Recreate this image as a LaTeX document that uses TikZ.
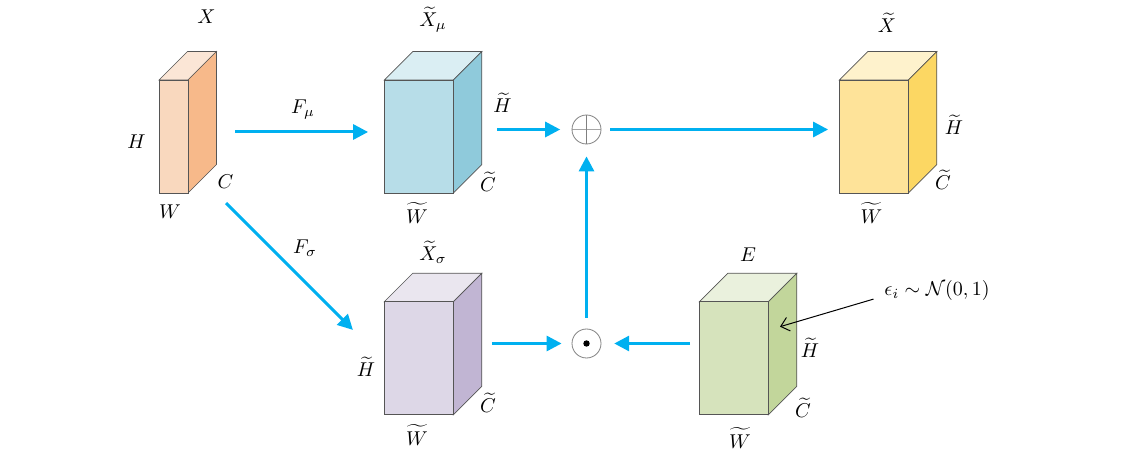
\documentclass[tikz,border=0pt]{standalone}
\usetikzlibrary{arrows.meta,calc}
\definecolor{arrblue}{HTML}{00B0F0}
\definecolor{edgec}{HTML}{555555}
\definecolor{xf}{HTML}{F9D8BE}\definecolor{xs}{HTML}{F7B98A}\definecolor{xt}{HTML}{FBE6D6}
\definecolor{bf}{HTML}{B7DDE8}\definecolor{bs}{HTML}{8FCADB}\definecolor{bt}{HTML}{DAEEF3}
\definecolor{pf}{HTML}{DDD7E7}\definecolor{ps}{HTML}{C1B5D3}\definecolor{pt}{HTML}{EAE6EF}
\definecolor{gf}{HTML}{D6E3BC}\definecolor{gs}{HTML}{C2D69B}\definecolor{gt}{HTML}{EAF1DD}
\definecolor{yf}{HTML}{FEE399}\definecolor{ys}{HTML}{FCD763}\definecolor{yt}{HTML}{FEF2CC}
\newcommand{\boxcube}[8]{%
  \filldraw[fill=#8,draw=edgec,line width=0.35pt] (#2,#3) -- ++(28.5,-28.5) -- ++(#4,0) -- ++(-28.5,28.5) -- cycle;
  \filldraw[fill=#7,draw=edgec,line width=0.35pt] (#2+#4,#3) -- ++(28.5,-28.5) -- ++(0,#5) -- ++(-28.5,28.5) -- cycle;
  \node[draw=edgec,fill=#6,line width=0.35pt,inner sep=0pt,outer sep=0pt,
        minimum width={#4*0.5pt},minimum height={#5*0.5pt}] (#1) at (#2+#4/2,#3+#5/2) {};
}
\tikzset{
  arr/.style={draw=arrblue,line width=1.5pt,-{Triangle[length=7.5pt,width=7.5pt]}},
  lbl/.style={inner sep=0pt,font=\normalsize},
  opnode/.style={circle,draw=gray,line width=0.4pt,minimum size=14.5pt,inner sep=0pt}
}
\begin{document}
\begin{tikzpicture}[x=0.5pt,y=-0.5pt]
\useasboundingbox (0,0) rectangle (1134,464);
% cubes
\boxcube{X}{159}{80}{29}{113}{xf}{xs}{xt}
\boxcube{Xmu}{384.3}{80}{69}{113}{bf}{bs}{bt}
\boxcube{Xsig}{384.3}{301.7}{69}{113}{pf}{ps}{pt}
\boxcube{E}{699.3}{301.7}{69}{113}{gf}{gs}{gt}
\boxcube{Xt}{839.3}{80}{69}{113}{yf}{ys}{yt}
% operators
\node[opnode,path picture={
  \draw[gray!70,line width=0.4pt] (path picture bounding box.west) -- (path picture bounding box.east);
  \draw[gray,line width=0.4pt] (path picture bounding box.north) -- (path picture bounding box.south);}] (oplus) at (586.5,129.5) {};
\node[opnode] (odot) at (586.5,343.5) {};
\fill (odot.center) circle (1.6pt);
% labels
\node[lbl] (lX) at (206.5,17) {$X$};
\node[lbl] (lH) at (136.5,141.5) {$H$};
\node[lbl] (lC) at (225.5,181.5) {$C$};
\node[lbl] (lW) at (170,211.5) {$W$};
\node[lbl] (lXmu) at (433,20) {$\widetilde{X}_\mu$};
\node[lbl] (lHmu) at (502.5,103) {$\widetilde{H}$};
\node[lbl] (lCmu) at (488,182) {$\widetilde{C}$};
\node[lbl] (lWmu) at (417,213) {$\widetilde{W}$};
\node[lbl] (lXsig) at (433,252) {$\widetilde{X}_\sigma$};
\node[lbl] (lHsig) at (366,366.5) {$\widetilde{H}$};
\node[lbl] (lCsig) at (488,403) {$\widetilde{C}$};
\node[lbl] (lWsig) at (417,435) {$\widetilde{W}$};
\node[lbl] (lE) at (748,255) {$E$};
\node[lbl] (lHE) at (810,348) {$\widetilde{H}$};
\node[lbl] (lCE) at (803,408) {$\widetilde{C}$};
\node[lbl] (lWE) at (740,438) {$\widetilde{W}$};
\node[lbl] (lXt) at (887,23) {$\widetilde{X}$};
\node[lbl] (lHt) at (954,125) {$\widetilde{H}$};
\node[lbl] (lCt) at (943,180) {$\widetilde{C}$};
\node[lbl] (lWt) at (871.5,213) {$\widetilde{W}$};
\node[lbl] (lFmu) at (303,110) {$F_\mu$};
\node[lbl] (lFsig) at (305,248) {$F_\sigma$};
\node[lbl,anchor=west] (eps) at (884,291) {$\epsilon_i \sim \mathcal{N}(0,1)$};
\coordinate (epstarget) at (780,326.7);
% connectors
\draw[arr,shorten <=23.5pt,shorten >=8.1pt] ([yshift=2.25pt]X.east) -- ([yshift=2.25pt]Xmu.west);
\draw[arr,shorten <=22pt,shorten >=5.7pt] (Xmu.east |- oplus) -- (oplus);
\draw[arr,shorten <=4.5pt,shorten >=5.6pt] (oplus) -- (Xt.west |- oplus);
\draw[arr] ([shift={(19pt,-5pt)}]X.south east) -- ([shift={(-15.7pt,-14.1pt)}]Xsig.north west);
\draw[arr,shorten <=19.3pt,shorten >=5pt] (Xsig.east |- odot) -- (odot);
\draw[arr,shorten <=4.6pt,shorten >=6.4pt] (E.west |- odot) -- (odot);
\draw[arr,shorten <=5.3pt,shorten >=6pt] (odot) -- (oplus);
\draw[-{Straight Barb[length=4pt,width=7pt]},line width=0.5pt,shorten <=5.5pt] ([yshift=-2.5pt]eps.west) -- (epstarget);
\end{tikzpicture}
\end{document}
